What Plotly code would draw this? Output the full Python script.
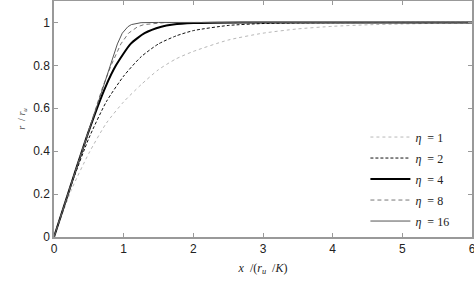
import plotly.graph_objects as go

# eta = 1
x1 = [0, 0.25, 0.5, 0.75, 1, 1.25, 1.5, 1.75, 2, 2.5, 3, 3.5, 4, 4.5, 5, 5.5, 6]
y1 = [0, 0.22, 0.39, 0.53, 0.63, 0.71, 0.78, 0.83, 0.865, 0.918, 0.95, 0.97, 0.982, 0.989, 0.993, 0.996, 0.998]
# eta = 2
x2 = [0, 0.25, 0.5, 0.75, 1, 1.25, 1.5, 1.75, 2, 2.5, 3, 3.5, 4, 5, 6]
y2 = [0, 0.245, 0.46, 0.63, 0.75, 0.84, 0.9, 0.937, 0.962, 0.986, 0.995, 0.998, 0.999, 1, 1]
# eta = 4
x4 = [0, 0.3, 0.5, 0.74, 0.89, 1.1, 1.3, 1.54, 1.71, 2.0, 2.3, 3, 6]
y4 = [0, 0.3, 0.495, 0.7, 0.8, 0.9, 0.95, 0.98, 0.99, 0.997, 0.999, 1, 1]
# eta = 8
x8 = [0, 0.5, 0.7, 0.82, 0.96, 1.07, 1.2, 1.29, 1.58, 2, 6]
y8 = [0, 0.5, 0.7, 0.8, 0.9, 0.95, 0.98, 0.99, 0.999, 1, 1]
# eta = 16
x16 = [0, 0.5, 0.8, 0.91, 0.98, 1.06, 1.11, 1.25, 1.5, 6]
y16 = [0, 0.5, 0.8, 0.9, 0.95, 0.98, 0.99, 0.999, 1, 1]

names = ["<i>η</i>  = 1", "<i>η</i>  = 2", "<i>η</i>  = 4", "<i>η</i>  = 8", "<i>η</i>  = 16"]
xticks = [0, 1, 2, 3, 4, 5, 6]
yticks = [0, 0.2, 0.4, 0.6, 0.8, 1]
yticklabels = ["0", "0.2", "0.4", "0.6", "0.8", "1"]

series = [
    (x1, y1, dict(color="#b8b8b8", width=1, dash="dot"), "spline"),
    (x2, y2, dict(color="#111111", width=1, dash="3px,2px"), "spline"),
    (x4, y4, dict(color="#000000", width=2), "spline"),
    (x8, y8, dict(color="#777777", width=1, dash="4px,3px"), "linear"),
    (x16, y16, dict(color="#555555", width=1), "linear"),
]

fig = go.Figure()
for i, ((xs, ys, ln, shape), nm) in enumerate(zip(series, names)):
    ln = dict(ln, shape=shape)
    if shape == "spline":
        ln["smoothing"] = 0.6
    fig.add_trace(go.Scatter(x=xs, y=ys, mode="lines", name=nm, line=ln,
                             legendgroup=f"g{i}"))

axis_common = dict(
    showline=True, linecolor="#999999", linewidth=1.5, mirror="ticks",
    ticks="inside", ticklen=4, tickcolor="#999999", showgrid=False, zeroline=False,
    ticklabeloverflow="allow",
    tickfont=dict(family="Liberation Sans, Arial", size=12, color="#222222"),
)

fig.update_layout(
    width=474, height=289,
    margin=dict(l=54, r=2, t=1, b=52, autoexpand=False),
    paper_bgcolor="white", plot_bgcolor="white",
    xaxis=dict(range=[0, 6], tickvals=xticks, ticktext=[str(t) for t in xticks],
               title=dict(text="<i>x</i>  /(<i>r</i><sub><i>u</i></sub>  /<i>K</i>)",
                          font=dict(family="Liberation Serif, Times New Roman", size=12, color="#222"),
                          standoff=8),
               **axis_common),
    yaxis=dict(range=[0, 1.1], tickvals=yticks, ticktext=yticklabels,
               title=dict(text="<i>r</i>  / <i>r</i><sub><i>u</i></sub>",
                          font=dict(family="Liberation Serif, Times New Roman", size=10, color="#444"),
                          standoff=6),
               **axis_common),
    legend=dict(x=0.745, y=0.485, xanchor="left", yanchor="top",
                bgcolor="rgba(0,0,0,0)", borderwidth=0, itemwidth=40, tracegroupgap=2,
                font=dict(family="Liberation Serif, Times New Roman", size=12, color="#222")),
    showlegend=True,
)

fig.write_html("out.html")
